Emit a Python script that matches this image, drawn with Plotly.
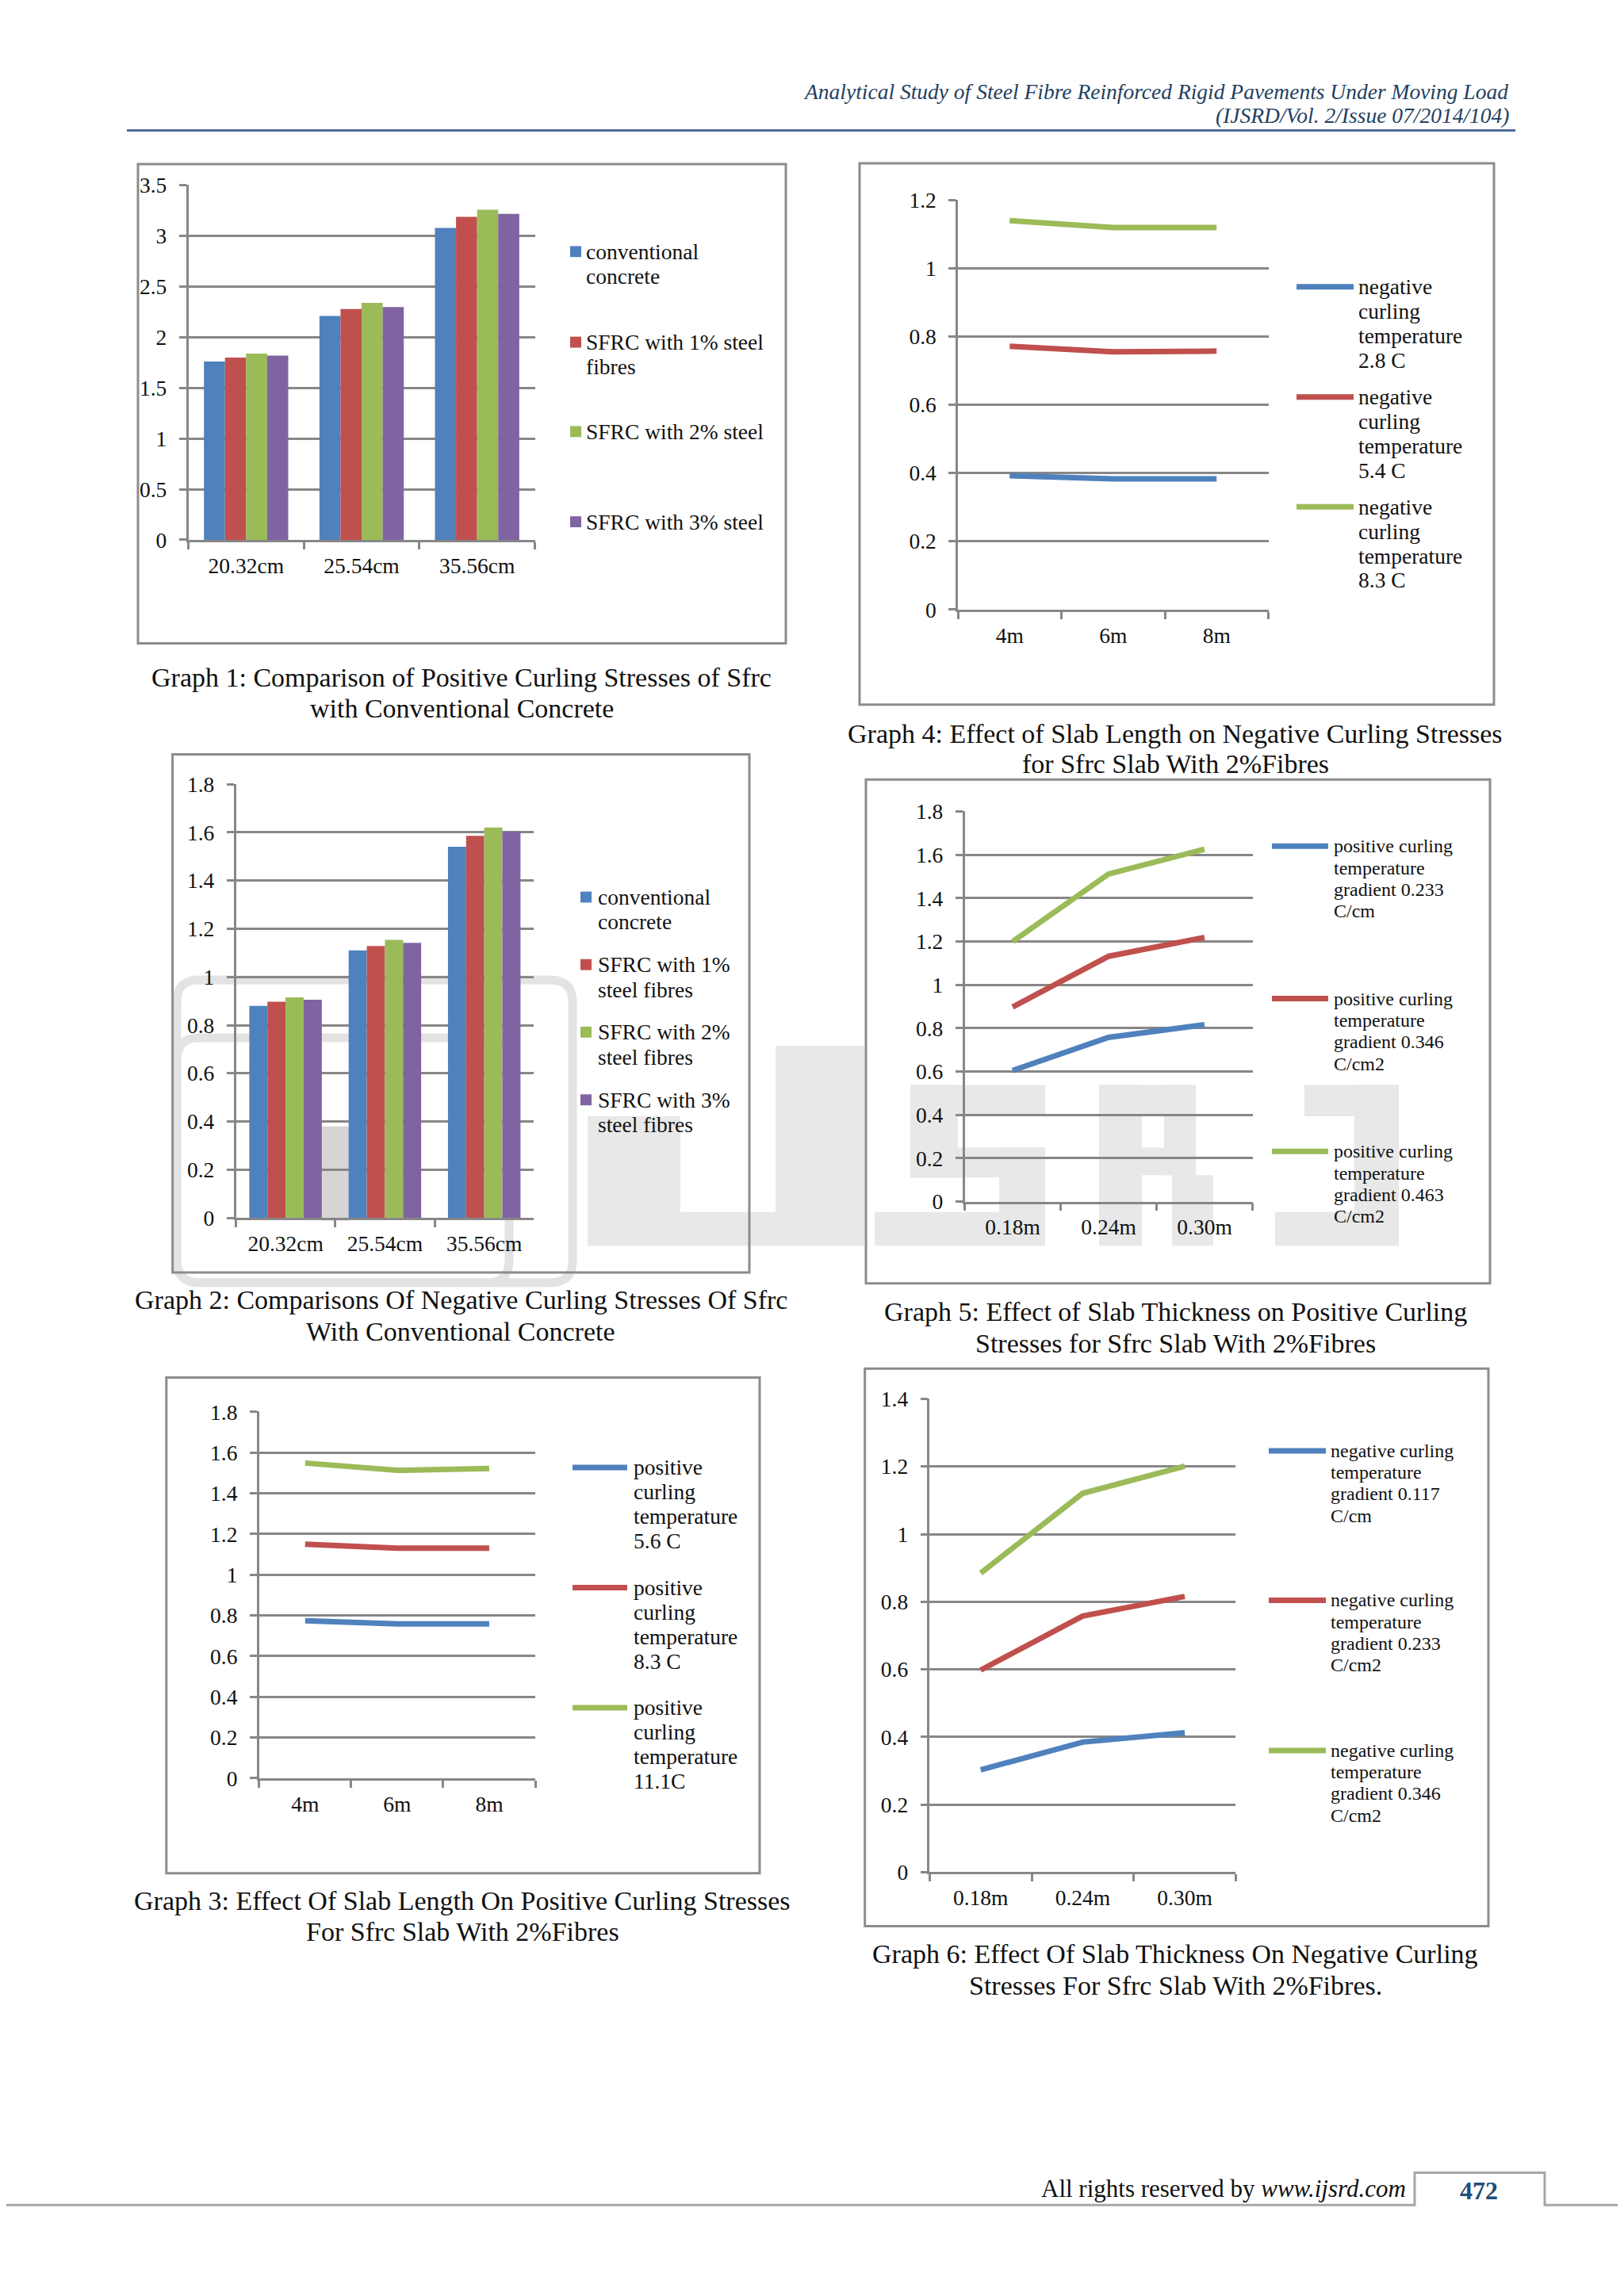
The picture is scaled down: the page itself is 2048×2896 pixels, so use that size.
import plotly.graph_objects as go

W, H = 2048, 2896
FONT = "Liberation Serif"
INK = "#111111"
AXIS = "#878787"
COLORS = ["#4F81BD", "#C0504D", "#9BBB59", "#8064A2"]

# Graph 1: positive curling stresses (bars)
g1_cats = ["20.32cm", "25.54cm", "35.56cm"]
g1_names = ["conventional<br>concrete", "SFRC with 1% steel<br>fibres", "SFRC with 2% steel", "SFRC with 3% steel"]
g1_conv = [1.76, 2.21, 3.08]
g1_sfrc1 = [1.80, 2.28, 3.19]
g1_sfrc2 = [1.84, 2.34, 3.26]
g1_sfrc3 = [1.82, 2.30, 3.22]

# Graph 2: negative curling stresses (bars)
g2_cats = ["20.32cm", "25.54cm", "35.56cm"]
g2_names = ["conventional<br>concrete", "SFRC with 1%<br>steel fibres", "SFRC with 2%<br>steel fibres", "SFRC with 3%<br>steel fibres"]
g2_conv = [0.88, 1.11, 1.54]
g2_sfrc1 = [0.897, 1.128, 1.586]
g2_sfrc2 = [0.915, 1.154, 1.62]
g2_sfrc3 = [0.905, 1.141, 1.603]

# Graph 3: slab length vs positive curling
g3_cats = ["4m", "6m", "8m"]
g3_names = ["positive<br>curling<br>temperature<br>5.6 C", "positive<br>curling<br>temperature<br>8.3 C", "positive<br>curling<br>temperature<br>11.1C"]
g3_t56 = [0.774, 0.759, 0.759]
g3_t83 = [1.15, 1.131, 1.131]
g3_t111 = [1.549, 1.513, 1.522]

# Graph 4: slab length vs negative curling
g4_cats = ["4m", "6m", "8m"]
g4_names = ["negative<br>curling<br>temperature<br>2.8 C", "negative<br>curling<br>temperature<br>5.4 C", "negative<br>curling<br>temperature<br>8.3 C"]
g4_t28 = [0.392, 0.383, 0.383]
g4_t54 = [0.771, 0.755, 0.757]
g4_t83 = [1.139, 1.119, 1.119]

# Graph 5: slab thickness vs positive curling
g5_cats = ["0.18m", "0.24m", "0.30m"]
g5_names = ["positive curling<br>temperature<br>gradient 0.233<br>C/cm", "positive curling<br>temperature<br>gradient 0.346<br>C/cm2", "positive curling<br>temperature<br>gradient 0.463<br>C/cm2"]
g5_g233 = [0.605, 0.758, 0.816]
g5_g346 = [0.898, 1.132, 1.219]
g5_g463 = [1.20, 1.512, 1.626]

# Graph 6: slab thickness vs negative curling
g6_cats = ["0.18m", "0.24m", "0.30m"]
g6_names = ["negative curling<br>temperature<br>gradient 0.117<br>C/cm", "negative curling<br>temperature<br>gradient 0.233<br>C/cm2", "negative curling<br>temperature<br>gradient 0.346<br>C/cm2"]
g6_g117 = [0.303, 0.385, 0.413]
g6_g233 = [0.598, 0.758, 0.816]
g6_g346 = [0.885, 1.121, 1.201]

panels = [
    dict(kind="bar", cats=g1_cats, series=[g1_conv, g1_sfrc1, g1_sfrc2, g1_sfrc3], names=g1_names,
         ymax=3.5, dtick=0.5, box=(166, 186, 983, 797), plot=(229.5, 212.7, 666.5, 665),
         key=(711, 725), tx=729, rows=[297.5, 413, 527, 642], step=31.5, size=27.5,
         cap=["Graph 1: Comparison of Positive Curling Stresses of Sfrc", "with Conventional Concrete"],
         cx=574, cy=[840, 880]),
    dict(kind="bar", cats=g2_cats, series=[g2_conv, g2_sfrc1, g2_sfrc2, g2_sfrc3], names=g2_names,
         ymax=1.8, dtick=0.2, box=(209.6, 938.5, 937, 1599), plot=(289.5, 976, 665.3, 1529.5),
         key=(724, 738), tx=743.5, rows=[1120.5, 1206.6, 1292.7, 1379], step=31.7, size=27.5,
         cap=["Graph 2: Comparisons Of Negative Curling Stresses Of Sfrc", "With Conventional Concrete"],
         cx=573, cy=[1634, 1674]),
    dict(kind="line", cats=g3_cats, series=[g3_t56, g3_t83, g3_t111], names=g3_names,
         ymax=1.8, dtick=0.2, box=(201.8, 1733, 950, 2365), plot=(318.7, 1776.5, 667, 2244),
         key=(714, 783), tx=788.7, rows=[1847.7, 2001, 2154], step=31.3, size=27.5,
         cap=["Graph 3: Effect Of Slab Length On Positive Curling Stresses", "For Sfrc Slab With 2%Fibres"],
         cx=575, cy=[2400, 2440]),
    dict(kind="line", cats=g4_cats, series=[g4_t28, g4_t54, g4_t83], names=g4_names,
         ymax=1.2, dtick=0.2, box=(1076, 185, 1876, 875), plot=(1200, 231, 1591.5, 754),
         key=(1627, 1699), tx=1703, rows=[342.5, 483, 623], step=31.2, size=27.5,
         cap=["Graph 4: Effect of Slab Length on Negative Curling Stresses", "for Sfrc Slab With 2%Fibres"],
         cx=1474, cy=[912, 951]),
    dict(kind="line", cats=g5_cats, series=[g5_g233, g5_g346, g5_g463], names=g5_names,
         ymax=1.8, dtick=0.2, box=(1084, 970.7, 1871, 1613), plot=(1208.5, 1011, 1571.5, 1508.7),
         key=(1596, 1667), tx=1672, rows=[1055.5, 1250, 1444.7], step=27.7, size=24,
         cap=["Graph 5: Effect of Slab Thickness on Positive Curling", "Stresses for Sfrc Slab With 2%Fibres"],
         cx=1474, cy=[1649, 1689.5]),
    dict(kind="line", cats=g6_cats, series=[g6_g117, g6_g233, g6_g346], names=g6_names,
         ymax=1.4, dtick=0.2, box=(1082.7, 1721.6, 1869, 2432.6), plot=(1164.4, 1759.8, 1550.4, 2363.8),
         key=(1592, 1664), tx=1668, rows=[1826.5, 2017, 2208.7], step=27.5, size=24,
         cap=["Graph 6: Effect Of Slab Thickness On Negative Curling", "Stresses For Sfrc Slab With 2%Fibres."],
         cx=1474, cy=[2468, 2508]),
]


def px(x):
    return x / W


def py(y):
    return 1 - y / H


fig = go.Figure()
shapes = []
annotations = []
layout = {}

# faint IJSRD watermark behind the middle charts
WM = "#E8E8E8"
wm_rects = [
    (733, 1400, 850, 1565), (970, 1310, 1082, 1565), (733, 1522, 1082, 1565),
    (1140, 1360, 1310, 1400), (1140, 1360, 1200, 1478), (1140, 1440, 1310, 1478),
    (1252, 1440, 1310, 1565), (1095, 1522, 1310, 1565),
    (1378, 1360, 1432, 1565), (1378, 1360, 1500, 1400), (1460, 1360, 1500, 1475),
    (1378, 1440, 1500, 1475), (1470, 1475, 1522, 1565),
    (1637, 1360, 1756, 1400), (1700, 1360, 1756, 1565), (1600, 1522, 1756, 1565),
]
for x0, y0, x1, y1 in wm_rects:
    shapes.append(dict(type="rect", xref="paper", yref="paper", layer="below",
                       x0=px(x0), x1=px(x1), y0=py(y1), y1=py(y0),
                       fillcolor=WM, line=dict(width=0)))
for x0, y0, x1, y1 in [(215, 1226, 714, 1612), (215, 1300, 634, 1612)]:
    r = 28
    path = (f"M{px(x0 + r)},{py(y0)} L{px(x1 - r)},{py(y0)} Q{px(x1)},{py(y0)} {px(x1)},{py(y0 + r)} "
            f"L{px(x1)},{py(y1 - r)} Q{px(x1)},{py(y1)} {px(x1 - r)},{py(y1)} "
            f"L{px(x0 + r)},{py(y1)} Q{px(x0)},{py(y1)} {px(x0)},{py(y1 - r)} "
            f"L{px(x0)},{py(y0 + r)} Q{px(x0)},{py(y0)} {px(x0 + r)},{py(y0)} Z")
    shapes.append(dict(type="path", xref="paper", yref="paper", layer="below", path=path,
                       line=dict(color="#E3E3E3", width=11)))
shapes.append(dict(type="rect", xref="paper", yref="paper", layer="below",
                   x0=px(398), x1=px(433), y0=py(1533), y1=py(1413),
                   fillcolor="#D6D6D6", line=dict(width=0)))

for i, p in enumerate(panels, start=1):
    xa = "x" if i == 1 else f"x{i}"
    ya = "y" if i == 1 else f"y{i}"
    x0, y0, x1, y1 = p["plot"]
    layout["xaxis" if i == 1 else f"xaxis{i}"] = dict(
        domain=[px(x0), px(x1)], anchor=ya, type="category", range=[-0.5, len(p["cats"]) - 0.5],
        showline=True, linecolor=AXIS, linewidth=2.5, showgrid=False, zeroline=False,
        ticks="outside", tickson="boundaries", ticklen=9, tickwidth=2.5, tickcolor=AXIS,
        ticklabelstandoff=6, tickfont=dict(family=FONT, size=27.5, color=INK))
    layout["yaxis" if i == 1 else f"yaxis{i}"] = dict(
        domain=[py(y1), py(y0)], anchor=xa, range=[0, p["ymax"] * 1.001], dtick=p["dtick"],
        showline=True, linecolor=AXIS, linewidth=2.5, showgrid=True, gridcolor=AXIS,
        gridwidth=2.5, zeroline=False, ticks="outside", ticklen=9, tickwidth=2.5,
        tickcolor=AXIS, ticklabelstandoff=10, tickfont=dict(family=FONT, size=27.5, color=INK))

    for k, (vals, name) in enumerate(zip(p["series"], p["names"])):
        label = name.replace("<br>", " ")
        if p["kind"] == "bar":
            fig.add_trace(go.Bar(x=p["cats"], y=vals, name=label, xaxis=xa, yaxis=ya,
                                 marker=dict(color=COLORS[k], line=dict(width=0))))
        else:
            fig.add_trace(go.Scatter(x=p["cats"], y=vals, name=label, xaxis=xa, yaxis=ya,
                                     mode="lines", line=dict(color=COLORS[k], width=7)))

        # legend key and text, line by line like the Excel legend
        ry = p["rows"][k]
        kx0, kx1 = p["key"]
        if p["kind"] == "bar":
            shapes.append(dict(type="rect", xref="paper", yref="paper",
                               x0=px(kx0), x1=px(kx1), y0=py(ry + 7), y1=py(ry - 7),
                               fillcolor=COLORS[k], line=dict(width=0)))
        else:
            shapes.append(dict(type="line", xref="paper", yref="paper",
                               x0=px(kx0), x1=px(kx1), y0=py(ry), y1=py(ry),
                               line=dict(color=COLORS[k], width=7)))
        for j, part in enumerate(name.split("<br>")):
            annotations.append(dict(text=part, xref="paper", yref="paper", showarrow=False,
                                    x=px(p["tx"]), y=py(ry + j * p["step"]),
                                    xanchor="left", yanchor="middle",
                                    font=dict(family=FONT, size=p["size"], color=INK)))

    bx0, by0, bx1, by1 = p["box"]
    shapes.append(dict(type="rect", xref="paper", yref="paper",
                       x0=px(bx0), x1=px(bx1), y0=py(by1), y1=py(by0),
                       line=dict(color="#8C8C8C", width=3)))
    for line_text, cy in zip(p["cap"], p["cy"]):
        annotations.append(dict(text=line_text, xref="paper", yref="paper", showarrow=False,
                                x=px(p["cx"]), y=py(cy), xanchor="center", yanchor="middle",
                                font=dict(family=FONT, size=34, color=INK)))

# page header
annotations.append(dict(text="<i>Analytical Study of Steel Fibre Reinforced Rigid Pavements Under Moving Load</i>",
                        xref="paper", yref="paper", showarrow=False, x=px(1896), y=py(94),
                        xanchor="right", yanchor="middle",
                        font=dict(family=FONT, size=27.5, color="#243F60")))
annotations.append(dict(text="<i>(IJSRD/Vol. 2/Issue 07/2014/104)</i>",
                        xref="paper", yref="paper", showarrow=False, x=px(1897), y=py(124),
                        xanchor="right", yanchor="middle",
                        font=dict(family=FONT, size=27.5, color="#243F60")))
shapes.append(dict(type="line", xref="paper", yref="paper", x0=px(152), x1=px(1903),
                   y0=py(143), y1=py(143), line=dict(color="#4F6B9E", width=3)))

# page footer
annotations.append(dict(text="All rights reserved by <i>www.ijsrd.com</i>",
                        xref="paper", yref="paper", showarrow=False, x=px(1767), y=py(2767),
                        xanchor="right", yanchor="middle",
                        font=dict(family=FONT, size=31, color=INK)))
annotations.append(dict(text="<b>472</b>", xref="paper", yref="paper", showarrow=False,
                        x=px(1857), y=py(2770), xanchor="center", yanchor="middle",
                        font=dict(family=FONT, size=32, color="#1F4E79")))
footer = (f"M{px(0)},{py(2788)} L{px(1776)},{py(2788)} L{px(1776)},{py(2747)} "
          f"L{px(1940)},{py(2747)} L{px(1940)},{py(2788)} L{px(2048)},{py(2788)}")
shapes.append(dict(type="path", xref="paper", yref="paper", path=footer,
                   line=dict(color="#A6A6A6", width=3)))

fig.update_layout(
    width=W, height=H, margin=dict(l=0, r=0, t=0, b=0),
    paper_bgcolor="white", plot_bgcolor="rgba(0,0,0,0)",
    showlegend=False, barmode="group", bargap=0.27, bargroupgap=0,
    font=dict(family=FONT, color=INK),
    shapes=shapes, annotations=annotations, **layout)

fig.write_html("out.html")
